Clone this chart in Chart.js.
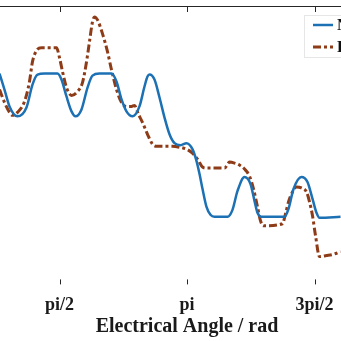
<!DOCTYPE html>
<html>
<head>
<meta charset="utf-8">
<title>Electrical Angle</title>
<script src="https://cdn.jsdelivr.net/npm/chart.js@4.4.0/dist/chart.umd.min.js"></script>
<style>
html, body { margin: 0; padding: 0; background: #fff; overflow: hidden; }
/* the picture is a crop of a wider figure: 0..2pi spans 510px, shifted left
   (plus 10px each side that chart.js keeps for the tick label padding) */
#wrap { position: absolute; left: -78px; top: 0; width: 530px; height: 341px; }
</style>
</head>
<body>
<div id="wrap"><canvas id="myChart"></canvas></div>
<script>
// angle in rad
var angleA = [0.832, 0.893, 0.955, 1.053, 1.164, 1.238, 1.300, 1.386, 1.546, 1.595, 1.657, 1.719, 1.768, 1.842, 1.916, 1.977,
    2.064, 2.211, 2.273, 2.335, 2.396, 2.470, 2.556, 2.618, 2.655, 2.680, 2.741, 2.803, 2.864, 2.926, 2.988, 3.062,
    3.135, 3.209, 3.259, 3.296, 3.333, 3.382, 3.431, 3.480, 3.641, 3.702, 3.764, 3.850, 3.924, 3.973, 4.010, 4.059,
    4.343, 4.392, 4.454, 4.552, 4.626, 4.688, 4.737, 4.774, 5.033];
var seriesA = [21.2, 19.6, 17.9, 16.9, 17.8, 20.1, 21.1, 21.2, 21.2, 20.6, 18.9, 17.4, 16.9, 17.6, 19.8, 21.0,
    21.2, 21.2, 20.4, 18.6, 17.4, 16.9, 17.9, 19.9, 20.9, 21.1, 20.6, 18.8, 16.8, 15.1, 14.2, 14.0,
    14.2, 13.6, 12.4, 11.1, 9.6, 7.8, 7.0, 6.8, 6.8, 7.5, 9.4, 10.8, 10.1, 8.4, 7.2, 6.8,
    6.8, 7.6, 9.6, 10.8, 10.3, 8.6, 7.2, 6.7, 6.8];

var angleB = [0.832, 0.893, 0.955, 0.992, 1.053, 1.140, 1.201, 1.238, 1.287, 1.349, 1.534, 1.571, 1.608, 1.657, 1.719, 1.793,
    1.854, 1.904, 1.940, 1.977, 2.002, 2.039, 2.101, 2.162, 2.211, 2.273, 2.335, 2.396, 2.458, 2.495, 2.544, 2.593,
    2.655, 2.717, 2.766, 2.963, 3.049, 3.135, 3.209, 3.271, 3.333, 3.382, 3.604, 3.665, 3.727, 3.788, 3.850, 3.911,
    3.961, 4.010, 4.047, 4.084, 4.318, 4.355, 4.392, 4.441, 4.490, 4.552, 4.614, 4.651, 4.688, 4.725, 4.774, 4.860,
    4.934, 5.033];
var seriesB = [19.6, 18.3, 17.3, 17.0, 17.3, 18.4, 20.4, 22.4, 23.5, 23.8, 23.8, 22.8, 21.4, 19.8, 19.0, 19.4,
    20.3, 22.4, 24.4, 26.4, 26.9, 26.6, 25.2, 23.4, 21.6, 19.6, 18.3, 17.9, 17.9, 18.0, 17.1, 16.3,
    15.1, 14.1, 13.9, 13.9, 13.8, 13.6, 13.2, 12.6, 11.8, 11.7, 11.7, 12.3, 12.2, 12.0, 11.6, 10.9,
    9.6, 7.8, 6.4, 5.9, 6.1, 7.1, 8.3, 9.3, 9.8, 9.7, 9.3, 8.3, 6.9, 4.9, 2.8, 2.9,
    3.0, 3.3];

var seriesNames = ["Normal", "Fault"];
var tickValues = [0, Math.PI / 2, Math.PI, 3 * Math.PI / 2, 2 * Math.PI];
var tickLabels = ["", "pi/2", "pi", "3pi/2", ""]; // 0 and 2pi fall outside the crop

var serif = "'Liberation Serif', 'Times New Roman', serif";

function toPoints(xs, ys) {
    return xs.map(function(x, i) { return { x: x, y: ys[i] }; });
}

// top frame line and inward tick marks, like the matlab box
var frame = {
    id: "frame",
    afterDraw: function(c) {
        var a = c.chartArea, sx = c.scales.x, g = c.ctx;
        g.save();
        g.strokeStyle = "#262626";
        g.lineWidth = 1;
        g.beginPath();
        g.moveTo(a.left, a.top + 0.5);
        g.lineTo(a.right, a.top + 0.5);
        tickValues.forEach(function(v) {
            var px = Math.round(sx.getPixelForValue(v)) + 0.5;
            g.moveTo(px, a.bottom);
            g.lineTo(px, a.bottom - 5);
            g.moveTo(px, a.top);
            g.lineTo(px, a.top + 6);
        });
        g.stroke();
        g.restore();
    }
};

// legend box in the upper right corner of the axes
var legendBox = {
    id: "legendBox",
    afterDraw: function(c) {
        var a = c.chartArea, g = c.ctx;
        var left = a.right - 138, top = a.top + 9;
        g.save();
        g.fillStyle = "#fff";
        g.strokeStyle = "#e6e6e6";
        g.lineWidth = 1;
        g.fillRect(left, top, 134, 42);
        g.strokeRect(left + 0.5, top + 0.5, 134, 42);
        c.data.datasets.forEach(function(ds, i) {
            var y = top + 10 + i * 22;
            g.strokeStyle = ds.borderColor;
            g.lineWidth = ds.borderWidth;
            g.setLineDash(ds.borderDash || []);
            g.beginPath();
            g.moveTo(left + 9, y);
            g.lineTo(left + 29, y);
            g.stroke();
            g.setLineDash([]);
            g.fillStyle = "#111";
            g.font = "bold 16px " + serif;
            g.textBaseline = "middle";
            g.fillText(ds.label, left + 33, y + 1);
        });
        g.restore();
    }
};

var ctx = document.getElementById("myChart").getContext("2d");
new Chart(ctx, {
    type: "line",
    data: {
        datasets: [{
            label: seriesNames[0],
            data: toPoints(angleA, seriesA),
            borderColor: "#1c70b4",
            borderWidth: 2.5,
            pointRadius: 0,
            cubicInterpolationMode: "monotone",
            fill: false,
        }, {
            label: seriesNames[1],
            data: toPoints(angleB, seriesB),
            borderColor: "#8e3b17",
            borderWidth: 3,
            borderDash: [8, 3, 3, 3],
            pointRadius: 0,
            cubicInterpolationMode: "monotone",
            fill: false,
        }],
    },
    options: {
        responsive: true,
        maintainAspectRatio: false,
        animation: false,
        layout: { padding: { top: 6, left: 0, right: 0, bottom: 0 } },
        plugins: { legend: { display: false }, tooltip: { enabled: false } },
        scales: {
            x: {
                type: "linear",
                min: 0,
                max: 2 * Math.PI,
                afterBuildTicks: function(s) {
                    s.ticks = tickValues.map(function(v) { return { value: v }; });
                },
                ticks: {
                    autoSkip: false,
                    maxRotation: 0,
                    padding: 10,
                    color: "#1a1a1a",
                    font: { family: serif, weight: "bold", size: 18 },
                    callback: function(v, i) { return tickLabels[i]; },
                },
                grid: { display: false, drawTicks: false },
                border: { display: false },
                title: {
                    display: true,
                    text: "Electrical Angle / rad",
                    color: "#1a1a1a",
                    font: { family: serif, weight: "bold", size: 20 },
                    padding: { top: -11, bottom: 2 },
                },
            },
            y: { display: false, min: 0, max: 28 },
        },
    },
    plugins: [frame, legendBox],
});
</script>
</body>
</html>
